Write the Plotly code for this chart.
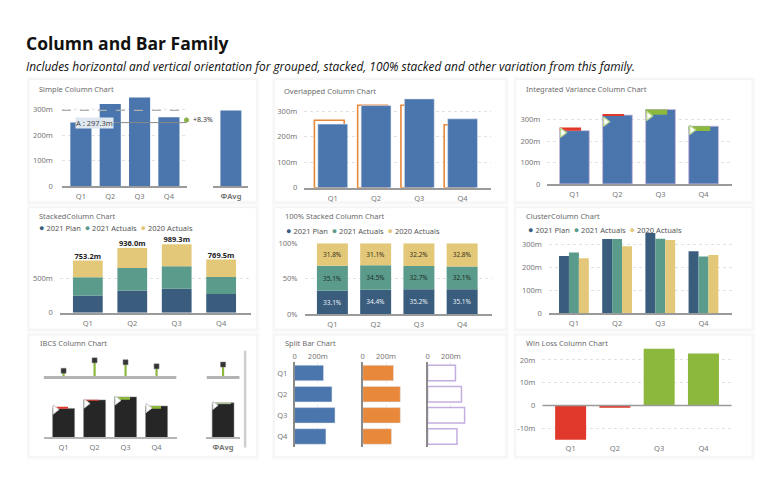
import plotly.graph_objects as go

W, H = 768, 480

# ---------------- data ----------------
quarters = ["Q1", "Q2", "Q3", "Q4"]
plan_2021 = [249.3, 321.9, 348.0, 269.9]
actual_2021 = [264.4, 322.9, 323.1, 247.0]
actual_2020 = [239.5, 291.2, 318.2, 252.6]
series_names = ["2021 Plan", "2021 Actuals", "2020 Actuals"]
avg_label = "ΦAvg"

value_ticks = [0, 100, 200, 300]
value_tick_text = ["0", "100m", "200m", "300m"]
stack_ticks = [0, 500]
stack_tick_text = ["0", "500m"]
pct_ticks = [0, 50, 100]
pct_tick_text = ["0%", "50%", "100%"]
split_ticks = [0, 200]
split_tick_text = ["0", "200m"]
wl_ticks = [-10, 0, 10, 20]
wl_tick_text = ["-10m", "0", "10m", "20m"]

panel_titles = ["Simple Column Chart", "Overlapped Column Chart", "Integrated Variance Column Chart",
                "StackedColumn Chart", "100% Stacked Column Chart", "ClusterColumn Chart",
                "IBCS Column Chart", "Split Bar Chart", "Win Loss Column Chart"]

# ---------------- style ----------------
BLUE = "#4a75ad"
ORANGE = "#e8883a"
PURPLE = "#c4aee0"
NAVY = "#3a5d7e"
TEAL = "#5b9b8b"
SAND = "#e2c878"
RED = "#e0392b"
GREEN = "#8db83e"
DARK = "#262626"
GRIDC = "#e2e2e2"
FONT = "Noto Sans"
TICKFONT = dict(family=FONT, size=7.5, color="#777777")

idx = list(range(len(quarters)))
n = len(quarters)
plan_avg = sum(plan_2021) / n
act_avg = sum(actual_2021) / n
prev_avg = sum(actual_2020) / n
totals = [a + b + c for a, b, c in zip(plan_2021, actual_2021, actual_2020)]
win_loss = [p - a for p, a in zip(plan_2021, actual_2021)]
pin_pct = [(p / q - 1) * 100 for p, q in zip(plan_2021, actual_2020)]
pin_avg = (plan_avg / prev_avg - 1) * 100
growth = (plan_2021[-1] / plan_2021[0] - 1) * 100

fig = go.Figure()
layout = dict(width=W, height=H, margin=dict(l=0, r=0, t=0, b=0),
              paper_bgcolor="white", plot_bgcolor="rgba(0,0,0,0)",
              showlegend=False, barmode="overlay", hovermode=False,
              font=dict(family=FONT, size=8, color="#666"))
shapes = []
annotations = []


def px_x(a, b):
    return [a / W, b / W]


def px_y(top, bottom):
    return [1 - bottom / H, 1 - top / H]


def make_axes(k, xpx, ypx, xr, yr, xo=None, yo=None):
    xk = "xaxis" if k == 1 else f"xaxis{k}"
    yk = "yaxis" if k == 1 else f"yaxis{k}"
    xa = dict(domain=px_x(*xpx), range=xr, anchor="y" if k == 1 else f"y{k}",
              showgrid=False, zeroline=False, showticklabels=False, ticks="",
              fixedrange=True, tickfont=TICKFONT, showline=False)
    ya = dict(domain=px_y(*ypx), range=yr, anchor="x" if k == 1 else f"x{k}",
              showgrid=False, zeroline=False, showticklabels=False, ticks="",
              fixedrange=True, tickfont=TICKFONT, showline=False)
    if xo:
        xa.update(xo)
    if yo:
        ya.update(yo)
    layout[xk] = xa
    layout[yk] = ya
    return ("x" if k == 1 else f"x{k}", "y" if k == 1 else f"y{k}")


def cat_x(ticktext=quarters, vals=idx):
    return dict(tickmode="array", tickvals=vals, ticktext=ticktext, showticklabels=True,
                showline=True, linecolor="#9a9a9a", linewidth=1.5, ticklabelstandoff=2)


def val_y(vals, text, standoff=6):
    return dict(tickmode="array", tickvals=vals, ticktext=text, showticklabels=True,
                showgrid=True, gridcolor=GRIDC, griddash="dot", gridwidth=1,
                ticklabelstandoff=standoff)


def hline(xref, yref, x0, x1, y, color, width, dash="solid"):
    shapes.append(dict(type="line", xref=xref, yref=yref, x0=x0, x1=x1, y0=y, y1=y,
                       line=dict(color=color, width=width, dash=dash)))


# ---------------- cards + titles ----------------
cols = [(27, 255), (273, 505), (515, 752)]
rows = [(76, 201), (207, 331), (337, 461)]
title_pos = [(35, 86), (281, 88), (523, 86), (35, 215), (282, 215), (523, 215),
             (36, 345), (282, 345), (523, 345)]
for r, (y0, y1) in enumerate(rows):
    for c, (x0, x1) in enumerate(cols):
        shapes.append(dict(type="rect", xref="paper", yref="paper", layer="below",
                           x0=(x0 - 2) / W, x1=(x1 + 3) / W, y0=1 - (y1 + 3) / H, y1=1 - (y0 - 2) / H,
                           fillcolor="#f8f8f8", line=dict(width=0)))
        shapes.append(dict(type="rect", xref="paper", yref="paper", layer="below",
                           x0=x0 / W, x1=x1 / W, y0=1 - y1 / H, y1=1 - y0 / H,
                           fillcolor="white", line=dict(color="#f3f3f3", width=1)))
for t, (x, y) in zip(panel_titles, title_pos):
    annotations.append(dict(text=t, x=x / W, y=1 - y / H, xref="paper", yref="paper",
                            xanchor="left", yanchor="middle", showarrow=False,
                            font=dict(family=FONT, size=7.5, color="#6b6b6b")))

annotations.append(dict(text="<b>Column and Bar Family</b>", x=22 / W, y=1 - 39 / H,
                        xref="paper", yref="paper", xanchor="left", yanchor="middle",
                        showarrow=False, font=dict(family="Open Sans", size=17.5, color="#111")))
annotations.append(dict(text="<i>Includes horizontal and vertical orientation for grouped, stacked, 100% stacked and other variation from this family.</i>",
                        x=22 / W, y=1 - 62 / H, xref="paper", yref="paper", xanchor="left",
                        yanchor="middle", showarrow=False,
                        font=dict(family="Open Sans", size=11.9, color="#111")))

# ---------------- 1. Simple column ----------------
xa, ya = make_axes(1, (60, 185), (90, 185), [-0.65, 3.6], [0, 365],
                   cat_x(), val_y(value_ticks, value_tick_text, 8))
fig.add_trace(go.Bar(x=idx, y=plan_2021, width=0.72, marker=dict(color=BLUE, line=dict(width=0)),
                     xaxis=xa, yaxis=ya))
hline(xa, ya, -0.65, 3.6, plan_avg, "#b0b0b0", 1.2, "dash")
hline(xa, ya, -0.2, 3.6, plan_2021[0], "#8a8a8a", 1)
shapes.append(dict(type="line", xref=xa, yref=ya, x0=3.6, x1=3.6, y0=plan_2021[0], y1=plan_2021[-1],
                   line=dict(color="#8a8a8a", width=1)))
mid = (plan_2021[0] + plan_2021[-1]) / 2
fig.add_trace(go.Scatter(x=[3.6], y=[mid], mode="markers", marker=dict(color=GREEN, size=5),
                         xaxis=xa, yaxis=ya, cliponaxis=False))
annotations.append(dict(text=f"+{growth:.1f}%", x=3.6, y=mid, xref=xa, yref=ya, xshift=4,
                        xanchor="left", yanchor="middle", showarrow=False,
                        font=dict(family=FONT, size=7, color="#333")))
annotations.append(dict(text=f"A : {plan_avg:.1f}m", x=-0.2, y=plan_2021[0], xref=xa, yref=ya,
                        xanchor="left", yanchor="middle", showarrow=False, bgcolor="#dfe7f1",
                        borderpad=0, font=dict(family=FONT, size=7.5, color="#444")))
xa, ya = make_axes(2, (212, 247), (90, 185), [-0.6, 0.6], [0, 365],
                   cat_x(["<b>" + avg_label + "</b>"], [0]), {})
fig.add_trace(go.Bar(x=[0], y=[plan_avg], width=0.72, marker=dict(color=BLUE, line=dict(width=0)),
                     xaxis=xa, yaxis=ya))

# ---------------- 2. Overlapped ----------------
xa, ya = make_axes(3, (303, 490), (92, 186.7), [-0.66, 3.65], [0, 363],
                   cat_x(), val_y(value_ticks, value_tick_text, 6))
w2 = 0.69
fig.add_trace(go.Bar(x=idx, y=actual_2021, width=w2, offset=-w2 / 2 - 0.08,
                     marker=dict(color="white", line=dict(color=ORANGE, width=1.6)),
                     xaxis=xa, yaxis=ya))
fig.add_trace(go.Bar(x=idx, y=plan_2021, width=w2, offset=-w2 / 2,
                     marker=dict(color=BLUE, line=dict(color="#dfe6f0", width=0.6)),
                     xaxis=xa, yaxis=ya))

# ---------------- 3. Integrated variance ----------------
xa, ya = make_axes(4, (546.7, 731.7), (100, 182.7), [-0.63, 3.656], [0, 379],
                   cat_x(), val_y(value_ticks, value_tick_text, 6))
fig.add_trace(go.Bar(x=idx, y=plan_2021, width=w2, offset=-w2 / 2,
                     marker=dict(color=BLUE, line=dict(color="#cbb8dc", width=0.8)),
                     xaxis=xa, yaxis=ya))
var_base = [min(p, a) for p, a in zip(plan_2021, actual_2021)]
var_h = [abs(p - a) for p, a in zip(plan_2021, actual_2021)]
var_c = [GREEN if p >= a else RED for p, a in zip(plan_2021, actual_2021)]
fig.add_trace(go.Bar(x=idx, y=var_h, base=var_base, width=0.5, offset=-w2 / 2,
                     marker=dict(color=var_c, line=dict(width=0)), xaxis=xa, yaxis=ya))
fig.add_trace(go.Scatter(x=[i - w2 / 2 + 0.07 for i in idx], y=actual_2020, mode="markers",
                         marker=dict(symbol="triangle-right", size=8, color="white",
                                     line=dict(color="#b9d48f", width=1.3)),
                         xaxis=xa, yaxis=ya))

# ---------------- legends ----------------
def legend_text():
    cs = [NAVY, TEAL, SAND]
    return "  ".join(f"<span style='color:{c};font-size:9px'>●</span> {s}" for c, s in zip(cs, series_names))


for (x, y) in [(35, 227.5), (283, 230), (525, 229)]:
    annotations.append(dict(text=legend_text(), x=x / W, y=1 - y / H, xref="paper", yref="paper",
                            xanchor="left", yanchor="middle", showarrow=False,
                            font=dict(family=FONT, size=7.5, color="#555")))

# ---------------- 4. Stacked ----------------
xa, ya = make_axes(5, (58, 250), (238, 314.3), [-0.63, 3.68], [0, 1078],
                   cat_x(), val_y(stack_ticks, stack_tick_text, 6))
w4 = 0.67
base2 = plan_2021
base3 = [p + a for p, a in zip(plan_2021, actual_2021)]
for vals, base, col in [(plan_2021, None, NAVY), (actual_2021, base2, TEAL), (actual_2020, base3, SAND)]:
    fig.add_trace(go.Bar(x=idx, y=vals, base=base, width=w4, marker=dict(color=col, line=dict(width=0)),
                         xaxis=xa, yaxis=ya))
fig.add_trace(go.Scatter(x=idx, y=totals, mode="text", text=[f"<b>{t:.1f}m</b>" for t in totals],
                         textposition="top center", textfont=dict(family=FONT, size=7.5, color="#222"),
                         xaxis=xa, yaxis=ya, cliponaxis=False))

# ---------------- 5. 100% stacked ----------------
xa, ya = make_axes(6, (303.3, 491.7), (243.3, 315.7), [-0.645, 3.70], [0, 100],
                   cat_x(), val_y(pct_ticks, pct_tick_text, 6))
w5 = 0.716
p_plan = [p / t * 100 for p, t in zip(plan_2021, totals)]
p_act = [a / t * 100 for a, t in zip(actual_2021, totals)]
p_prev = [c / t * 100 for c, t in zip(actual_2020, totals)]
b2 = p_plan
b3 = [a + b for a, b in zip(p_plan, p_act)]
for vals, base, col, tc in [(p_plan, None, NAVY, "#e6edf4"), (p_act, b2, TEAL, "#1e2f2a"),
                            (p_prev, b3, SAND, "#3a3320")]:
    fig.add_trace(go.Bar(x=idx, y=vals, base=base, width=w5, marker=dict(color=col, line=dict(width=0)),
                         text=[f"{v:.1f}%" for v in vals], textposition="inside",
                         insidetextanchor="middle", textangle=0,
                         textfont=dict(family=FONT, size=6.5, color=tc),
                         xaxis=xa, yaxis=ya))

# ---------------- 6. Cluster ----------------
xa, ya = make_axes(7, (548.3, 731.7), (228, 315), [-0.58, 3.656], [0, 369],
                   cat_x(), val_y(value_ticks, value_tick_text, 6))
w6 = 0.23
for k, (vals, col) in enumerate([(plan_2021, NAVY), (actual_2021, TEAL), (actual_2020, SAND)]):
    fig.add_trace(go.Bar(x=idx, y=vals, width=w6, offset=-1.5 * w6 + k * w6,
                         marker=dict(color=col, line=dict(width=0)), xaxis=xa, yaxis=ya))

# ---------------- 7. IBCS ----------------
xr7 = [-0.645, 3.645]
xra = [-0.54, 0.54]
xa, ya = make_axes(8, (41.7, 175), (358, 382), xr7, [-1, 13.5])
hline(xa, ya, xr7[0], xr7[1], 0, "#b3b3b3", 3)
fig.add_trace(go.Bar(x=idx, y=pin_pct, width=0.07, marker=dict(color=GREEN, line=dict(width=0)),
                     xaxis=xa, yaxis=ya))
fig.add_trace(go.Scatter(x=idx, y=pin_pct, mode="markers", cliponaxis=False,
                         marker=dict(symbol="square", size=5, color="#333",
                                     line=dict(color="#777", width=0.5)),
                         xaxis=xa, yaxis=ya))
xa, ya = make_axes(9, (205, 238.3), (358, 382), xra, [-1, 13.5])
hline(xa, ya, xra[0], xra[1], 0, "#b3b3b3", 3)
fig.add_trace(go.Bar(x=[0], y=[pin_avg], width=0.07, marker=dict(color=GREEN, line=dict(width=0)),
                     xaxis=xa, yaxis=ya))
fig.add_trace(go.Scatter(x=[0], y=[pin_avg], mode="markers", cliponaxis=False,
                         marker=dict(symbol="square", size=5, color="#333",
                                     line=dict(color="#777", width=0.5)),
                         xaxis=xa, yaxis=ya))

w7 = 0.71
ibcs_x = dict(cat_x(), linecolor="#b5b5b5", linewidth=2)
xa, ya = make_axes(10, (41.7, 175), (395, 441.7), xr7, [0, 392], ibcs_x, {})
fig.add_trace(go.Bar(x=idx, y=plan_2021, width=w7, offset=-w7 / 2,
                     marker=dict(color=DARK, line=dict(color="#888", width=0.5)), xaxis=xa, yaxis=ya))
fig.add_trace(go.Bar(x=idx, y=var_h, base=var_base, width=0.5, offset=-w7 / 2,
                     marker=dict(color=var_c, line=dict(width=0)), xaxis=xa, yaxis=ya))
fig.add_trace(go.Scatter(x=[i - w7 / 2 + 0.08 for i in idx], y=actual_2020, mode="markers",
                         marker=dict(symbol="triangle-right", size=8, color="white",
                                     line=dict(color="#c9c9c9", width=1)),
                         xaxis=xa, yaxis=ya))
avg_x = dict(cat_x(["<b>" + avg_label + "</b>"], [0]), linecolor="#b5b5b5", linewidth=2)
xa, ya = make_axes(11, (205, 238.3), (395, 441.7), xra, [0, 392], avg_x, {})
fig.add_trace(go.Bar(x=[0], y=[plan_avg], width=w7, offset=-w7 / 2,
                     marker=dict(color=DARK, line=dict(color="#888", width=0.5)), xaxis=xa, yaxis=ya))
fig.add_trace(go.Bar(x=[0], y=[abs(plan_avg - act_avg)], base=[min(plan_avg, act_avg)], width=0.6,
                     offset=-w7 / 2, marker=dict(color=GREEN if plan_avg >= act_avg else RED),
                     xaxis=xa, yaxis=ya))
fig.add_trace(go.Scatter(x=[-w7 / 2 + 0.08], y=[prev_avg], mode="markers",
                         marker=dict(symbol="triangle-right", size=7, color="white",
                                     line=dict(color="#c9c9c9", width=1)),
                         xaxis=xa, yaxis=ya))
shapes.append(dict(type="rect", xref="paper", yref="paper", x0=242.5 / W, x1=245 / W,
                   y0=1 - 452 / H, y1=1 - 353 / H, fillcolor="#cfcfcf", line=dict(width=0)))

# ---------------- 8. Split bar ----------------
split_series = [(plan_2021, BLUE, BLUE), (actual_2021, ORANGE, ORANGE), (actual_2020, "white", PURPLE)]
split_x = [293.3, 361.7, 426.7]
for k, ((vals, fill, line), x0) in enumerate(zip(split_series, split_x)):
    xo = dict(tickmode="array", tickvals=split_ticks, ticktext=split_tick_text, showticklabels=True,
              side="top", showgrid=True, gridcolor="#ececec", griddash="dot", ticklabelstandoff=1)
    yo = dict(tickmode="array", tickvals=idx, ticktext=quarters if k == 0 else [""] * n,
              showticklabels=(k == 0), showline=True, linecolor="#8a8a8a", linewidth=1.5,
              ticklabelstandoff=4)
    xa, ya = make_axes(12 + k, (x0, x0 + 52), (365, 451.5), [0, 446], [3.5, -0.5], xo, yo)
    fig.add_trace(go.Bar(x=vals, y=idx, orientation="h", width=0.73,
                         marker=dict(color=fill, line=dict(color=line if fill == "white" else "#dfe6f0",
                                                           width=1.5 if fill == "white" else 0.5)),
                         xaxis=xa, yaxis=ya))

# ---------------- 9. Win loss ----------------
xa, ya = make_axes(15, (541.7, 731.7), (350, 445), [-0.64, 3.64], [-15.5, 25.4],
                   dict(tickmode="array", tickvals=idx, ticktext=quarters, showticklabels=True,
                        ticklabelstandoff=2),
                   val_y(wl_ticks, wl_tick_text, 6))
fig.add_trace(go.Bar(x=idx, y=win_loss, width=0.7,
                     marker=dict(color=[GREEN if v >= 0 else RED for v in win_loss], line=dict(width=0)),
                     xaxis=xa, yaxis=ya))
hline(xa, ya, -0.64, 3.64, 0, "#9a9a9a", 1.5)

layout["shapes"] = shapes
layout["annotations"] = annotations
fig.update_layout(**layout)
fig.write_html("out.html")
